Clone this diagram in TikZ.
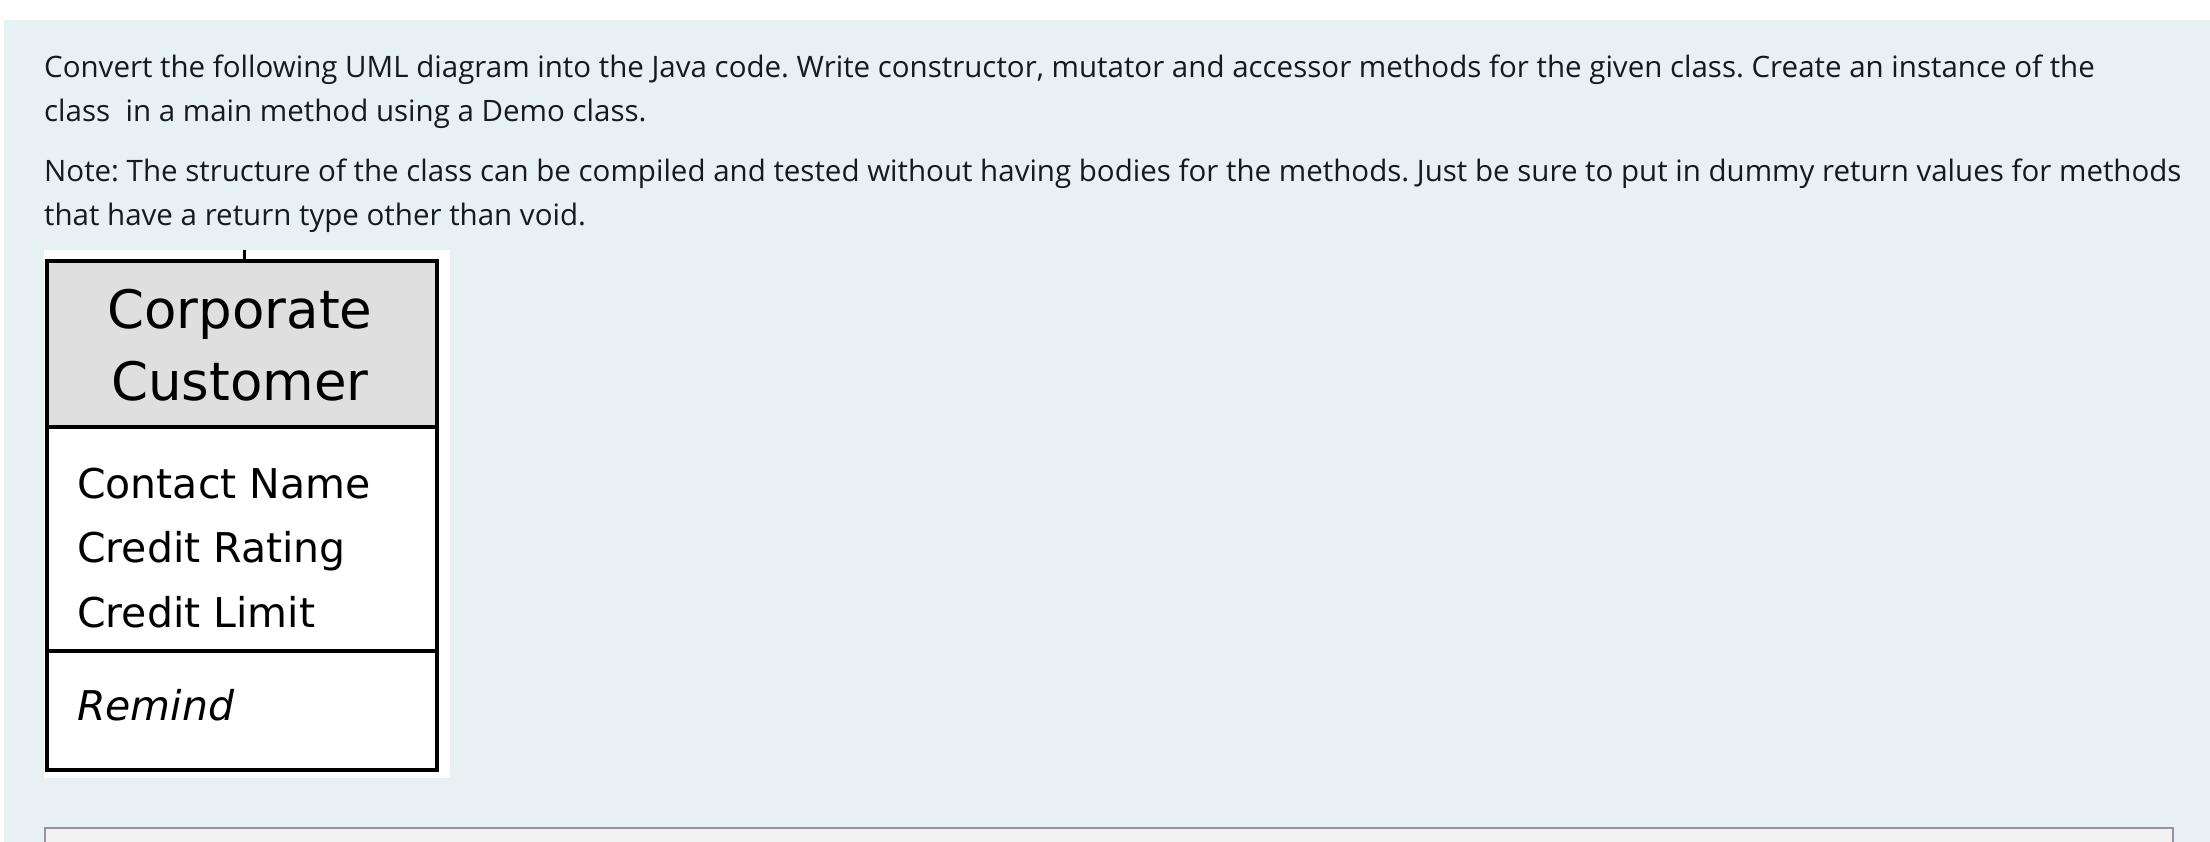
\documentclass[tikz,border=0pt]{standalone}
\usepackage{fontspec}
\setmainfont{Open Sans}
\newfontfamily\umlfont{DejaVu Sans}
\frenchspacing

\definecolor{panelblue}{RGB}{231,240,243}
\definecolor{textdark}{RGB}{22,26,30}
\definecolor{headgray}{RGB}{223,223,223}
\definecolor{answerfill}{RGB}{242,242,242}
\definecolor{answerline}{RGB}{143,150,157}

\tikzset{
	prompt/.style={anchor=base west, inner sep=0pt, text=textdark, font=\fontsize{29.5}{34}\selectfont},
	umltitle/.style={anchor=base, inner sep=0pt, font=\umlfont\fontsize{53}{60}\selectfont},
	umlentry/.style={anchor=base west, inner sep=0pt, font=\umlfont\fontsize{41}{48}\selectfont},
	umlrule/.style={line width=3.5pt, draw=black},
}

\begin{document}
\begin{tikzpicture}[x=1pt,y=-1pt]
	\useasboundingbox (0,0) rectangle (2210,842);
	
	%page and question panel
	\fill[white] (0,0) rectangle (2210,842);
	\fill[panelblue] (4,20) rectangle (2210,842);
	
	%question text
	\node[prompt] (convert) at (44,78) {Convert the following UML diagram into the Java code. Write constructor, mutator and accessor methods for the given class. Create an instance of the};
	\node[prompt] (demo) at (44,122) {class~ in a main method using a Demo class.};
	\node[prompt] (note) at (44,182) {Note: The structure of the class can be compiled and tested without having bodies for the methods. Just be sure to put in dummy return values for methods};
	\node[prompt] (void) at (44,226) {that have a return type other than void.};
	
	%class box
	\fill[white] (44,250) rectangle (450,778);
	\fill[headgray] (47,261) rectangle (437,427);
	\draw[umlrule] (47,261) rectangle (437,770);
	\draw[umlrule] (47,427) -- (437,427);
	\draw[umlrule] (47,651) -- (437,651);
	\draw[line width=3pt] (244,250) -- (244,261);
	
	\node[umltitle] (corporate) at (240,328) {Corporate};
	\node[umltitle] (customer) at (240,400) {Customer};
	\node[umlentry] (contact) at (77,498) {Contact Name};
	\node[umlentry] (rating) at (77,562) {Credit Rating};
	\node[umlentry] (limit) at (77,627) {Credit Limit};
	\node[umlentry, font=\umlfont\itshape\fontsize{41}{48}\selectfont] (remind) at (77,720) {Remind};
	
	%answer field
	\fill[answerfill] (45,828) rectangle (2173,842);
	\draw[answerline, line width=2pt] (45,842) -- (45,828) -- (2173,828) -- (2173,842);
	
\end{tikzpicture}
\end{document}
